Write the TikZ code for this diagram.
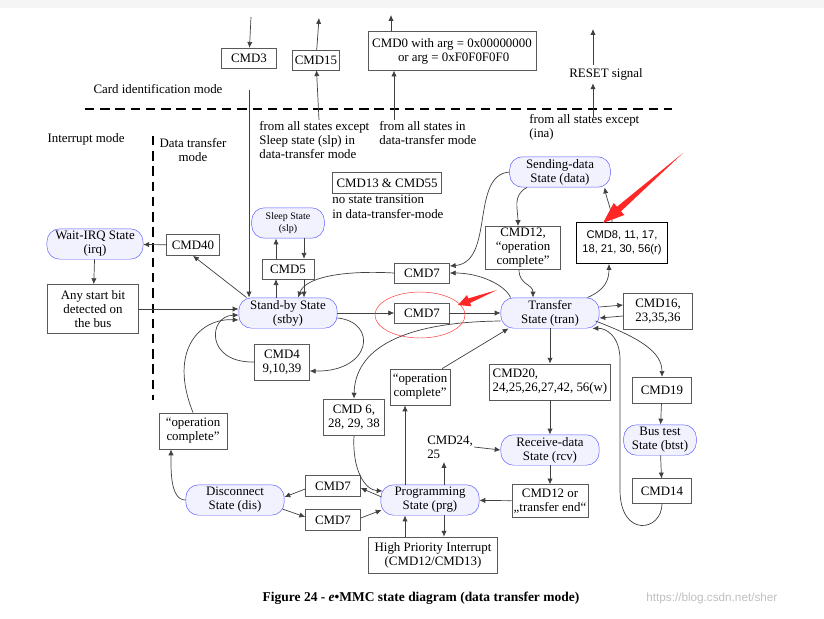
\documentclass[tikz,border=0pt]{standalone}
\usepackage{fontspec}
\setmainfont{Liberation Serif}
\newfontfamily\arialfont{Liberation Sans}
\usetikzlibrary{arrows.meta, calc}
\tikzstyle{rect} = [rectangle, draw=black!65, fill=white, align=center, inner sep=1pt, font=\fontsize{11}{12}\selectfont]
\tikzstyle{state} = [rectangle, rounded corners=11pt, draw=blue!65, fill=blue!5, align=center, inner sep=1pt, minimum width=84pt, minimum height=26pt, font=\fontsize{11}{12}\selectfont]
\tikzstyle{blank} = [rectangle, align=left, inner sep=1pt, font=\fontsize{11}{12}\selectfont]
\tikzstyle{arrow} = [-{Latex[length=5pt,width=4.5pt]}, draw=black!75, line width=0.6pt]

\begin{document}
\begin{tikzpicture}[x=0.03cm, y=-0.03cm]
        \useasboundingbox (0,0) rectangle (824,618);
        \fill[gray!8] (0,0) rectangle (824,8);

        % card identification part
        \node[rect, minimum width=47pt, minimum height=17pt] (cmdthree) at (249,58) {CMD3};
        \node[rect, minimum width=40pt, minimum height=17pt] (cmdfifteen) at (316,60) {CMD15};
        \node[rect, minimum width=143pt, minimum height=33pt] (cmdzero) at (452,51) {CMD0 with arg = 0x00000000\\ \ or arg = 0xF0F0F0F0};
        \node[blank] (reset) at (606,74) {RESET signal};
        \node[blank] (cid) at (158,89) {Card identification mode};
        \node[blank, anchor=north west] (fromslp) at (258,120) {from all states except\\Sleep state (slp) in\\data-transfer mode};
        \node[blank, anchor=north west] (fromdtm) at (378,120) {from all states in\\data-transfer mode};
        \node[blank, anchor=north west] (fromina) at (528,113) {from all states except\\(ina)};
        \node[blank] (intmode) at (86,139) {Interrupt mode};
        \node[blank, align=center] (dtmode) at (193,150) {Data transfer\\mode};
        \coordinate (intop) at (251,17);
        \coordinate (outfifteen) at (319,18);
        \coordinate (outzero) at (391,15);
        \coordinate (outreset) at (593,29);
        \coordinate (cidline) at (249,90);
        \draw[dashed, line width=1.3pt, dash pattern=on 8pt off 5pt] (85,109) -- (672,109);
        \draw[dashed, line width=1.3pt, dash pattern=on 8pt off 5pt] (153,136) -- (153,400);
        \draw[arrow] (intop) -- (cmdthree);
        \draw[arrow] (cmdfifteen) -- (outfifteen);
        \draw[arrow] (fromslp.north -| outfifteen) -- (cmdfifteen);
        \draw[arrow] (cmdzero.north -| outzero) -- (outzero);
        \draw[arrow] (fromdtm.north -| 394,0) -- (cmdzero.south -| 394,0);
        \draw[arrow] (reset.north -| outreset) ++(0,-2) -- (outreset);
        \draw[arrow] (fromina.north -| outreset) ++(0,5) -- ($(reset.south -| outreset)+(0,2)$);

        % data transfer part
        \node[rect, minimum width=93pt, minimum height=18pt] (cmdthirteen) at (387,183) {CMD13 \& CMD55};
        \node[blank, anchor=north west] (nostate) at (331,194) {no state transition\\in data-transfer-mode};
        \node[state, minimum width=62pt, font=\fontsize{8.5}{10}\selectfont] (slp) at (288,223) {Sleep State\\(slp)};
        \node[rect, minimum width=44pt, minimum height=17pt] (cmdfive) at (288,269) {CMD5};
        \node[state, minimum width=82pt] (irq) at (95,244) {Wait-IRQ State\\(irq)};
        \node[rect, minimum width=45pt, minimum height=18pt] (cmdforty) at (193,245) {CMD40};
        \node[rect, minimum width=78pt, minimum height=42pt] (anystart) at (93,309) {Any start bit\\detected on\\the bus};
        \node[state] (stby) at (288,313) {Stand-by State\\(stby)};
        \node[rect, minimum width=47pt, minimum height=31pt] (cmdfour) at (282,362) {CMD4\\9,10,39};
        \node[rect, minimum width=47pt, minimum height=17pt] (cmdsevenA) at (422,273) {CMD7};
        \node[rect, minimum width=47pt, minimum height=17pt] (cmdsevenB) at (422,313) {CMD7};
        \node[state, minimum width=86pt] (data) at (560,172) {Sending-data\\State (data)};
        \node[rect, minimum width=64pt, minimum height=37pt] (cmdtwelve) at (523,248) {CMD12,\\``operation\\complete''};
        \node[rect, draw=black, line width=0.8pt, minimum width=77pt, minimum height=35pt, font=\arialfont\fontsize{9.5}{12}\selectfont] (cmdeight) at (622,243) {CMD8, 11, 17,\\18, 21, 30, 56(r)};
        \node[state] (tran) at (550,313) {Transfer\\State (tran)};
        \node[rect, minimum width=59pt, minimum height=31pt] (cmdsixteen) at (658,311) {CMD16,\\23,35,36};
        \node[rect, minimum width=103pt, minimum height=31pt, align=left] (cmdtwenty) at (550,382) {CMD20,\\24,25,26,27,42, 56(w)};
        \node[rect, minimum width=50pt, minimum height=22pt] (cmdnineteen) at (662,390) {CMD19};
        \node[state, minimum width=62pt] (btst) at (660,440) {Bus test\\State (btst)};
        \node[rect, minimum width=50pt, minimum height=21pt] (cmdfourteen) at (662,491) {CMD14};
        \node[rect, minimum width=58pt, minimum height=31pt] (opleft) at (193,431) {``operation\\complete''};
        \node[rect, minimum width=52pt, minimum height=31pt] (cmdsix) at (354,417) {CMD 6,\\28, 29, 38};
        \node[rect, minimum width=51pt, minimum height=31pt] (opmid) at (420,387) {``operation\\complete''};
        \node[blank] (cmdtwentyfour) at (450,447) {CMD24,\\25};
        \node[state] (rcv) at (550,450) {Receive-data\\State (rcv)};
        \node[state] (dis) at (235,500) {Disconnect\\State (dis)};
        \node[rect, minimum width=47pt, minimum height=18pt] (cmdsevenC) at (333,486) {CMD7};
        \node[rect, minimum width=47pt, minimum height=18pt] (cmdsevenD) at (333,520) {CMD7};
        \node[state] (prg) at (430,500) {Programming\\State (prg)};
        \node[rect, minimum width=65pt, minimum height=28pt] (cmdtwelveor) at (550,501) {CMD12 or\\,,transfer end``};
        \node[rect, minimum width=110pt, minimum height=31pt] (hpi) at (433,555) {High Priority Interrupt\\(CMD12/CMD13)};
        \coordinate (cmdtwfbot) at (444,462);

        \draw[arrow] (cidline) -- (cidline |- stby.north);
        \draw[arrow] (cmdforty) -- (irq);
        \draw[arrow] ($(stby.north west)+(8,0)$) -- (cmdforty.south);
        \draw[arrow] (irq) -- (anystart);
        \draw[arrow] (anystart.east) -- ($(stby.west)+(0,-4)$);
        \draw[arrow] ($(stby.north)+(-12,0)$) -- ($(cmdfive.south)+(-12,0)$);
        \draw[arrow] ($(cmdfive.north)+(-12,0)$) -- ($(slp.south)+(-12,0)$);
        \draw[arrow] ($(slp.south)+(16,0)$) -- ($(cmdfive.north)+(16,0)$);
        \draw[arrow] ($(cmdfive.south)+(16,0)$) -- ($(stby.north)+(16,0)$);
        \draw[arrow] ($(stby.east)+(0,5)$) .. controls (378,322) and (372,372) .. ($(cmdfour.east)+(0,9)$);
        \draw[arrow] (cmdfour.west) .. controls (205,363) and (208,316) .. ($(stby.west)+(0,2)$);
        \draw[arrow] (opleft.north) .. controls (168,350) and (200,318) .. ($(stby.west)+(0,7)$);
        \draw[arrow] (dis.west) .. controls (170,500) and (171,470) .. ($(opleft.south)+(-22,0)$);
        \draw[arrow] (stby.east) -- (cmdsevenB);
        \draw[arrow] (cmdsevenB) -- (tran);
        \draw[arrow] ($(tran.north west)+(10,0)$) .. controls (505,285) and (480,273) .. (cmdsevenA.east);
        \draw[arrow] (data.west) .. controls (470,175) and (495,262) .. ($(cmdsevenA.east)+(0,-7)$);
        \draw[arrow] (cmdsevenA.west) .. controls (340,270) and (305,278) .. ($(stby.north)+(10,0)$);
        \draw[arrow] ($(data.south)+(-33,0)$) .. controls (512,195) and (518,210) .. ($(cmdtwelve.north)+(-5,0)$);
        \draw[arrow] ($(cmdtwelve.south)+(-4,0)$) .. controls (519,285) and (533,284) .. ($(tran.north)+(-17,0)$);
        \draw[arrow] ($(tran.north east)+(-12,0)$) .. controls (605,290) and (609,280) .. ($(cmdeight.south)+(-13,0)$);
        \draw[arrow] ($(cmdeight.north)+(-10,0)$) .. controls (612,210) and (607,200) .. ($(data.south east)+(-6,0)$);
        \draw[arrow] ($(tran.east)+(0,-6)$) -- ($(cmdsixteen.west)+(0,-6)$);
        \draw[arrow] ($(cmdsixteen.west)+(0,5)$) -- ($(tran.east)+(0,5)$);
        \draw[arrow] (tran) -- (cmdtwenty);
        \draw[arrow] (cmdtwenty) -- (rcv);
        \draw[arrow] (rcv) -- (cmdtwelveor);
        \draw[arrow] (cmdtwelveor) -- (prg);
        \draw[arrow] (cmdtwentyfour.east) -- (rcv.west);
        \draw[arrow] ($(tran.east)+(-4,8)$) .. controls (640,338) and (662,352) .. (cmdnineteen.north);
        \draw[arrow] (cmdnineteen) -- (btst);
        \draw[arrow] (btst) -- (cmdfourteen);
        \draw[arrow] (cmdfourteen.south) .. controls (662,532) and (620,538) .. (620,490) -- (620,360) .. controls (620,336) and (606,328) .. ($(tran.south east)+(-7,0)$);
        \draw[arrow] ($(tran.west)+(0,8)$) .. controls (400,322) and (355,350) .. (cmdsix.north);
        \draw[arrow] (cmdsix.south) .. controls (352,470) and (365,490) .. ($(prg.west)+(2,-9)$);
        \draw[arrow] ($(opmid.north east)+(-8,0)$) -- ($(tran.south west)+(8,0)$);
        \draw[arrow] ($(prg.north)+(-25,0)$) -- ($(opmid.south)+(-15,0)$);
        \draw[arrow] ($(prg.north)+(14,0)$) -- (cmdtwfbot);
        \draw[arrow] ($(hpi.north)+(-28,0)$) -- ($(prg.south)+(-25,0)$);
        \draw[arrow] ($(prg.south)+(14,0)$) -- ($(hpi.north)+(11,0)$);
        \draw[arrow] ($(prg.west)+(1,-3)$) -- ($(cmdsevenC.east)+(0,2)$);
        \draw[arrow] ($(cmdsevenC.west)+(0,3)$) -- ($(dis.east)+(0,-3)$);
        \draw[arrow] ($(dis.east)+(-2,9)$) -- ($(cmdsevenD.west)+(0,-3)$);
        \draw[arrow] ($(cmdsevenD.east)+(0,-2)$) -- ($(prg.west)+(1,10)$);

        % marks
        \draw[red!80] (420,315) ellipse [x radius=45, y radius=23];
        \fill[red!85] (683,153) -- (621,211.3) -- (624.3,215) -- (603,223) -- (613.7,203) -- (617,206.7) -- cycle;
        \fill[red!85] (497,290) -- (470.1,303) -- (471.4,306.3) -- (458,305) -- (467,295.1) -- (468.3,298.4) -- cycle;

        \node[blank, font=\bfseries\fontsize{11.5}{12}\selectfont] (caption) at (421,598) {Figure 24 - \textit{e}\textbullet MMC state diagram (data transfer mode)};
        \node[blank, anchor=west, text=gray!50, font=\arialfont\fontsize{10}{12}\selectfont] (mark) at (645,598) {https://blog.csdn.net/sher};
\end{tikzpicture}
\end{document}
